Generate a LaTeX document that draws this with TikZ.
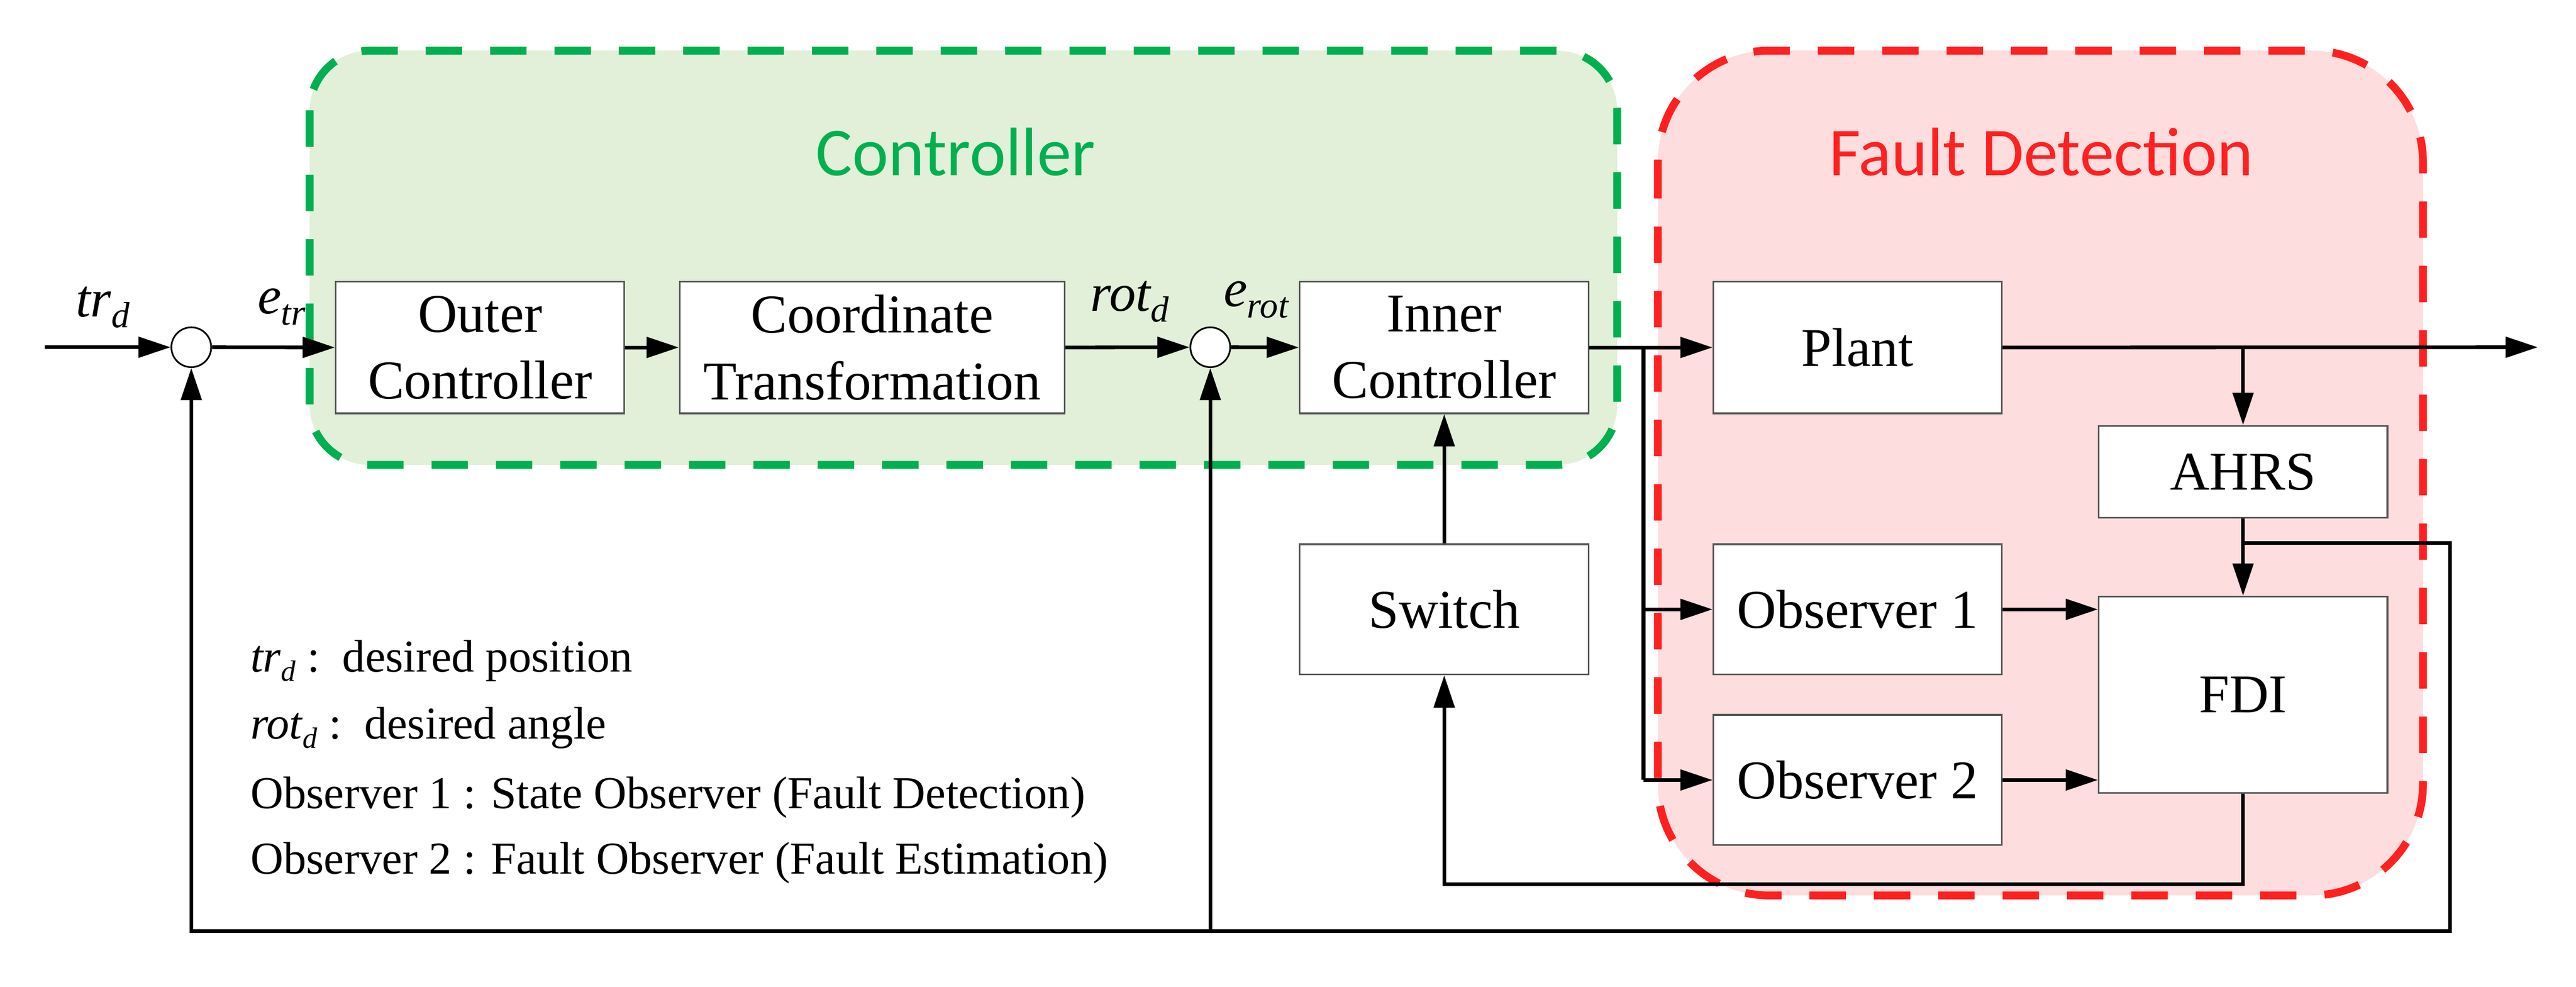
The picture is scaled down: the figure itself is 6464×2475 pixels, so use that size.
\documentclass[tikz,border=0pt]{standalone}
\usepackage{fontspec}
\setmainfont{Liberation Serif}
\newfontfamily\titlefont{Carlito}
\usetikzlibrary{arrows.meta,calc}
\definecolor{ggreen}{HTML}{00B050}
\definecolor{gfill}{HTML}{E2F0D9}
\definecolor{rred}{HTML}{FF2020}
\definecolor{rfill}{HTML}{FDDDDE}
\definecolor{bordergray}{HTML}{555555}
\newcommand{\bigsub}[1]{\raisebox{-0.45ex}{\fontsize{13}{13}\selectfont\itshape #1}}
\newcommand{\smallsub}[1]{\raisebox{-0.45ex}{\fontsize{10.5}{10.5}\selectfont\itshape #1}}
\begin{document}
\begin{tikzpicture}[x=0.005cm,y=-0.005cm,
  blk/.style={draw=bordergray,line width=0.6pt,fill=white,align=center,inner sep=0pt,
    font=\fontsize{19.5}{23.8}\selectfont},
  sumc/.style={circle,draw=black,line width=0.6pt,fill=white,minimum size=0.5cm,inner sep=0pt},
  conn/.style={line width=1.3pt,-{Triangle[length=11.5pt,width=7.3pt]}},
  wire/.style={line width=1.3pt},
  grp/.style={line width=2.8pt,dash pattern=on 13pt off 10pt},
  sig/.style={anchor=base west,inner sep=0pt,font=\fontsize{19}{19}\selectfont\itshape},
  leg/.style={anchor=base west,inner sep=0pt,font=\fontsize{16.3}{16.3}\selectfont},
  ttl/.style={anchor=base,inner sep=0pt,font=\titlefont\fontsize{24.5}{24.5}\selectfont}]

\useasboundingbox (0,0) rectangle (6464,2475);

% group backgrounds
\fill[gfill,rounded corners=0.75cm] (777,127) rectangle (4058,1166);
\draw[grp,ggreen,rounded corners=0.75cm] (777,127) rectangle (4058,1166);
\fill[rfill,rounded corners=1.4cm] (4160,127) rectangle (6080,2246);
\draw[grp,rred,rounded corners=1.4cm] (4160,127) rectangle (6080,2246);

\node[ttl,text=ggreen] (ctitle) at (2398,440) {Controller};
\node[ttl,text=rred] (ftitle) at (5122,440) {Fault Detection};

% blocks
\node[sumc] (sum1) at (480,871) {};
\node[blk,minimum width=3.625cm,minimum height=1.655cm] (outer) at (1204.5,871.5) {Outer\\Controller};
\node[blk,minimum width=4.835cm,minimum height=1.655cm] (coord) at (2188.5,871.5) {Coordinate\\Transformation};
\node[sumc] (sum2) at (3037,871) {};
\node[blk,minimum width=3.63cm,minimum height=1.655cm] (inner) at (3624,871.5) {Inner\\Controller};
\node[blk,minimum width=3.63cm,minimum height=1.635cm] (switch) at (3624,1528.5) {Switch};
\node[blk,minimum width=3.62cm,minimum height=1.655cm] (plant) at (4661,871.5) {Plant};
\node[blk,minimum width=3.62cm,minimum height=1.635cm] (obs1) at (4661,1528.5) {Observer 1};
\node[blk,minimum width=3.62cm,minimum height=1.635cm] (obs2) at (4661,1956.5) {Observer 2};
\node[blk,minimum width=3.625cm,minimum height=1.155cm] (ahrs) at (5628.5,1183.5) {AHRS};
\node[blk,minimum width=3.625cm,minimum height=2.465cm] (fdi) at (5628.5,1742.5) {FDI};

% coordinates
\coordinate (in) at (112,871);
\coordinate (out) at (6368,871);
\coordinate (br1) at (4124,871);
\coordinate (br2) at (5628.5,871);
\coordinate (fbA) at (5628.5,1362);
\coordinate (fbB) at (6148,1362);
\coordinate (fbC) at (6148,2335);
\coordinate (fdiLow) at (5628.5,2218);

% forward path
\draw[conn] (in) -- (sum1.west);
\draw[conn] (sum1.east) -- (outer.west);
\draw[conn] (outer.east) -- (coord.west);
\draw[conn] (coord.east) -- (sum2.west);
\draw[conn] (sum2.east) -- (inner.west);
\draw[conn] (inner.east) -- (plant.west);
\draw[conn] (plant.east) -- (out);
\draw[conn] (br2) -- (ahrs.north);
\draw[conn] (ahrs.south) -- (fdi.north);

% observers
\draw[wire] (br1) -- (br1 |- obs2.west);
\draw[conn] (br1 |- obs1.west) -- (obs1.west);
\draw[conn] (br1 |- obs2.west) -- (obs2.west);
\draw[conn] (obs1.east) -- (fdi.west |- obs1.east);
\draw[conn] (obs2.east) -- (fdi.west |- obs2.east);

% switch loop
\draw[conn] (fdi.south) -- (fdiLow) -- (switch.south |- fdiLow) -- (switch.south);
\draw[conn] (switch.north) -- (inner.south);

% feedback
\draw[conn] (fbA) -- (fbB) -- (fbC) -- (sum1.south |- fbC) -- (sum1.south);
\draw[conn] (sum2.south |- fbC) -- (sum2.south);

% signal labels
\node[sig] (ltrd) at (189,794) {tr\bigsub{d}};
\node[sig] (letr) at (645,787) {e\bigsub{tr}};
\node[sig] (lrotd) at (2735,780) {rot\bigsub{d}};
\node[sig] (lerot) at (3069,769) {e\bigsub{rot}};

% legend
\node[leg] (leg1) at (627,1685) {\textit{tr}\smallsub{d}\ :\ \ desired position};
\node[leg] (leg2) at (627,1853) {\textit{rot}\smallsub{d}\ :\ \ desired angle};
\node[leg] (leg3) at (627,2028) {Observer 1 : State Observer (Fault Detection)};
\node[leg] (leg4) at (627,2192) {Observer 2 : Fault Observer (Fault Estimation)};
\end{tikzpicture}
\end{document}
